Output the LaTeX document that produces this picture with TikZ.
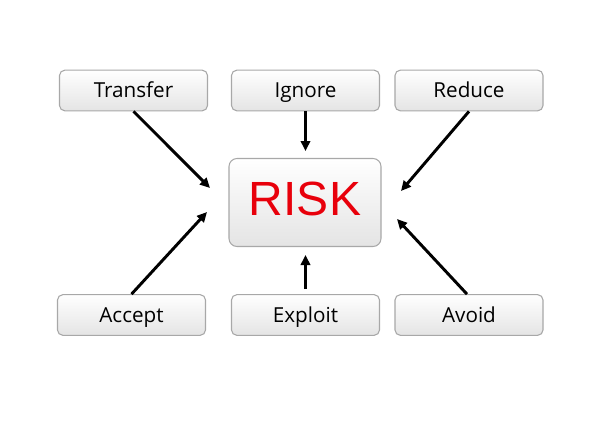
\documentclass[tikz,border=0pt]{standalone}
\usepackage{fontspec}
\setmainfont{Open Sans}
\newfontfamily\riskfont{Liberation Sans}
\usetikzlibrary{arrows.meta}
\definecolor{boxborder}{HTML}{A8A8A8}
\definecolor{boxbottom}{HTML}{E4E4E4}
\definecolor{riskred}{HTML}{E8000B}
\begin{document}
\begin{tikzpicture}[x=0.75pt,y=-0.75pt,
  optbox/.style={draw=boxborder,line width=0.8pt,rounded corners=4pt,
    top color=white,bottom color=boxbottom,minimum width=111pt,minimum height=30.5pt,
    inner sep=0pt,text height=11pt,text depth=0pt,font=\fontsize{15.5}{17}\selectfont},
  riskbox/.style={draw=boxborder,line width=0.8pt,rounded corners=6pt,
    top color=white,bottom color=boxbottom,minimum width=114pt,minimum height=66pt,
    inner sep=0pt,text height=25.8pt,text depth=6pt,text=riskred,font=\riskfont\fontsize{36}{40}\selectfont},
  arr/.style={line width=2.2pt,-{Triangle[length=7.5pt,width=7pt]}}]
\useasboundingbox[fill=white] (0,0) rectangle (600,443);
\node[riskbox] (risk) at (305,202.5) {RISK};
\node[optbox] (transfer) at (133.5,90.5) {Transfer};
\node[optbox] (ignore) at (305.5,90.5) {Ignore};
\node[optbox] (reduce) at (469,90.5) {Reduce};
\node[optbox] (accept) at (131.5,315) {Accept};
\node[optbox] (exploit) at (305.5,315) {Exploit};
\node[optbox] (avoid) at (469,315) {Avoid};
\coordinate (t1) at (210,188);
\coordinate (i1) at (305.5,151);
\coordinate (r1) at (401,191);
\coordinate (a1) at (207,212);
\coordinate (e1) at (305.5,255);
\coordinate (v1) at (397,219);
\draw[arr] (transfer.south) -- (t1);
\draw[arr] (ignore.south) -- (i1);
\draw[arr] (reduce.south) -- (r1);
\draw[arr] (accept.north) -- (a1);
\draw[arr] (exploit.north) ++(0,-5) coordinate (e0) (e0) -- (e1);
\draw[arr] (avoid.north) ++(-2,0) coordinate (v0) (v0) -- (v1);
\end{tikzpicture}
\end{document}
